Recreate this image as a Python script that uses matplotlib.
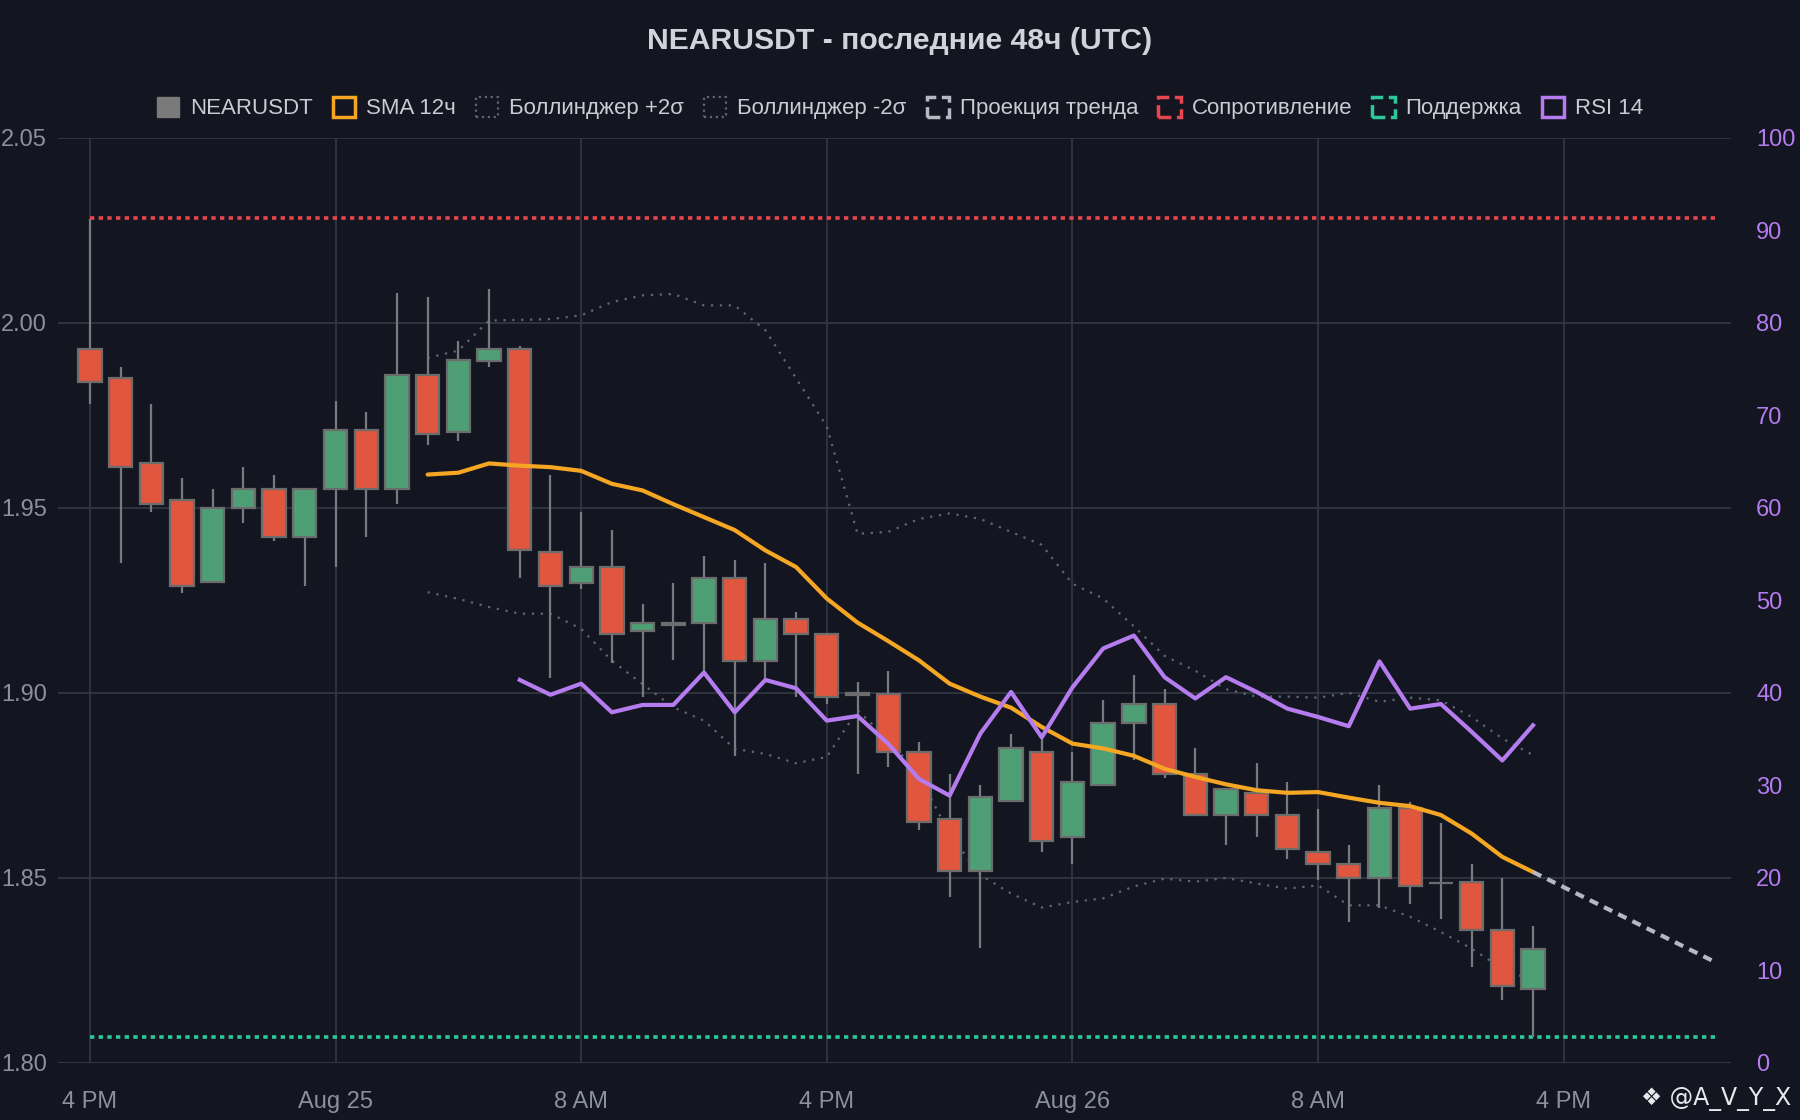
import matplotlib
matplotlib.use("Agg")
import matplotlib.pyplot as plt
import matplotlib.dates as mdates
from matplotlib.patches import Patch
from matplotlib.ticker import FuncFormatter
import pandas as pd
import numpy as np

# ---------------- data ----------------
start_time = "2025-08-24 16:00"
opens = [1.993, 1.985, 1.962, 1.952, 1.930, 1.950, 1.955, 1.942, 1.955, 1.971,
         1.955, 1.986, 1.9705, 1.9898, 1.993, 1.938, 1.9297, 1.934, 1.9168, 1.9183,
         1.9188, 1.931, 1.9087, 1.920, 1.916, 1.8995, 1.8998, 1.8839, 1.8659, 1.8518,
         1.8708, 1.884, 1.861, 1.875, 1.892, 1.897, 1.878, 1.8669, 1.873, 1.867,
         1.857, 1.8539, 1.850, 1.8689, 1.8487, 1.8488, 1.8359, 1.8199]
closes = [1.984, 1.961, 1.951, 1.929, 1.950, 1.955, 1.942, 1.955, 1.971, 1.955,
          1.986, 1.970, 1.990, 1.9929, 1.9387, 1.929, 1.934, 1.9159, 1.919, 1.919,
          1.931, 1.9087, 1.920, 1.9159, 1.8989, 1.900, 1.8839, 1.865, 1.8518, 1.8719,
          1.885, 1.860, 1.876, 1.892, 1.897, 1.878, 1.8669, 1.874, 1.867, 1.8578,
          1.8539, 1.850, 1.8689, 1.8478, 1.8487, 1.8359, 1.8208, 1.8309]
highs = [2.028, 1.988, 1.978, 1.958, 1.955, 1.961, 1.959, 1.955, 1.979, 1.976,
         2.008, 2.007, 1.995, 2.009, 1.9936, 1.959, 1.949, 1.944, 1.924, 1.9297,
         1.937, 1.9358, 1.935, 1.9219, 1.916, 1.903, 1.906, 1.8868, 1.878, 1.875,
         1.8888, 1.888, 1.884, 1.898, 1.9048, 1.901, 1.885, 1.874, 1.881, 1.8758,
         1.8687, 1.8588, 1.875, 1.8705, 1.8649, 1.8539, 1.850, 1.8369]
lows = [1.978, 1.935, 1.949, 1.927, 1.930, 1.946, 1.941, 1.929, 1.934, 1.942,
        1.951, 1.967, 1.968, 1.988, 1.931, 1.904, 1.928, 1.908, 1.899, 1.909,
        1.906, 1.883, 1.903, 1.899, 1.897, 1.878, 1.880, 1.8629, 1.8449, 1.831,
        1.8708, 1.857, 1.8539, 1.875, 1.882, 1.877, 1.8669, 1.859, 1.861, 1.855,
        1.8494, 1.838, 1.842, 1.843, 1.839, 1.826, 1.8171, 1.807]

sma_start = 11
sma12 = [1.959, 1.9595, 1.962, 1.9614, 1.961, 1.960, 1.9565, 1.9547, 1.951, 1.9475,
         1.944, 1.9385, 1.934, 1.9255, 1.919, 1.914, 1.9088, 1.9025, 1.899, 1.896,
         1.8908, 1.8863, 1.885, 1.883, 1.8795, 1.8773, 1.8753, 1.8737, 1.873, 1.8732,
         1.8717, 1.8703, 1.8694, 1.867, 1.862, 1.8557, 1.8516]
boll_upper = [1.9905, 1.9925, 2.0006, 2.0008, 2.001, 2.002, 2.0056, 2.0074, 2.0078, 2.0047,
              2.0047, 1.998, 1.985, 1.972, 1.943, 1.9435, 1.947, 1.9485, 1.947, 1.9435,
              1.940, 1.9295, 1.9255, 1.918, 1.910, 1.906, 1.901, 1.899, 1.899, 1.8987,
              1.900, 1.8976, 1.8987, 1.898, 1.8935, 1.8877, 1.8832]
boll_lower = [1.9272, 1.9254, 1.9232, 1.9214, 1.9214, 1.9173, 1.9087, 1.9024, 1.8961, 1.8925,
              1.8849, 1.8835, 1.881, 1.8827, 1.8953, 1.8875, 1.8778, 1.8618, 1.8508, 1.8458,
              1.842, 1.8435, 1.8445, 1.8477, 1.8498, 1.849, 1.850, 1.8485, 1.8471, 1.848,
              1.8426, 1.8426, 1.8395, 1.8354, 1.8309, 1.8255, 1.8222]

rsi_start = 14
rsi14 = [41.4, 39.8, 41.0, 37.9, 38.7, 38.7, 42.2, 37.9, 41.4, 40.5,
         37.0, 37.5, 34.5, 30.7, 28.9, 35.6, 40.1, 35.2, 40.6, 44.8,
         46.2, 41.7, 39.4, 41.7, 40.1, 38.3, 37.4, 36.4, 43.4, 38.3,
         38.8, 35.8, 32.7, 36.5]

trend_hours = [47, 53]
trend_values = [1.8516, 1.827]
level_hours = [0, 53]
resistance = 2.0283
support = 1.8071

price_ticks = [1.80, 1.85, 1.90, 1.95, 2.00, 2.05]
rsi_ticks = [0, 10, 20, 30, 40, 50, 60, 70, 80, 90, 100]

title = "NEARUSDT - последние 48ч (UTC)"
legend_labels = ["NEARUSDT", "SMA 12ч", "Боллинджер +2σ", "Боллинджер -2σ",
                 "Проекция тренда", "Сопротивление", "Поддержка", "RSI 14"]
watermark = "❖ @A_V_Y_X"

# ---------------- style ----------------
BG = "#131620"
GRID = "#343844"
TXT = "#8b909c"
RED = "#e0563f"
GREEN = "#4f9f76"
EDGE = "#6c6c6c"
ORANGE = "#f5a623"
PURPLE = "#b57cf0"
BOLL = "#5f6775"
RES = "#e8464f"
SUP = "#2cc79a"
TREND = "#b5b9c2"

plt.rcParams['font.family'] = ['Liberation Sans', 'DejaVu Sans']

times = pd.date_range(start_time, periods=len(opens), freq="h")
t0 = mdates.date2num(times[0].to_pydatetime())
x = np.array([mdates.date2num(t.to_pydatetime()) for t in times])
hour = 1.0 / 24.0

fig = plt.figure(figsize=(18, 11.2), dpi=100, facecolor=BG)
ax = fig.add_axes([0.0322, 0.0509, 0.9295, 0.8261])
ax.set_facecolor(BG)

o = np.array(opens); c = np.array(closes)
colors = [GREEN if cc >= oo else RED for oo, cc in zip(o, c)]
ax.vlines(x, lows, highs, color="#777b80", lw=1.6, zorder=3)
ax.bar(x, np.abs(c - o), bottom=np.minimum(o, c), width=0.76 * hour,
       color=colors, edgecolor=EDGE, linewidth=1.6, zorder=4)

xs_sma = x[sma_start:sma_start + len(sma12)]
ax.plot(xs_sma, boll_upper, color=BOLL, lw=1.6, ls=(0, (1, 3)), zorder=2)
ax.plot(xs_sma, boll_lower, color=BOLL, lw=1.6, ls=(0, (1, 3)), zorder=2)
ax.plot(xs_sma, sma12, color=ORANGE, lw=3, zorder=5, solid_capstyle='round',
        solid_joinstyle='round')

tx = [t0 + h * hour for h in trend_hours]
ax.plot(tx, trend_values, color=TREND, lw=3, ls=(0, (2.2, 1.6)), zorder=5)

lx = [t0 + h * hour for h in level_hours]
ax.plot(lx, [resistance, resistance], color=RES, lw=2.6, ls=(0, (1.2, 1.2)), zorder=2)
ax.plot(lx, [support, support], color=SUP, lw=2.6, ls=(0, (1.2, 1.2)), zorder=2)

ax.set_ylim(1.80, 2.05)
ax.set_xlim(t0 - 1.04 * hour, t0 + 53.45 * hour)
ax.set_yticks(price_ticks)
ax.yaxis.set_major_formatter(FuncFormatter(lambda v, p: f"{v:.2f}"))

ax.xaxis.set_major_locator(mdates.HourLocator(byhour=[0, 8, 16]))
def fmt_x(v, p):
    d = mdates.num2date(v)
    if d.hour == 0:
        return f"{d:%b} {d.day}"
    h12 = d.hour % 12 or 12
    return f"{h12} {'AM' if d.hour < 12 else 'PM'}"
ax.xaxis.set_major_formatter(FuncFormatter(fmt_x))

ax.grid(True, color=GRID, lw=1.2, zorder=0)
for s in ax.spines.values():
    s.set_visible(False)
ax.tick_params(axis='y', colors=TXT, labelsize=17, length=0, pad=8)
ax.tick_params(axis='x', colors=TXT, labelsize=17, length=0, pad=20)
ax.axhline(1.80, color="#3a3e4a", lw=2, zorder=1)

ax2 = ax.twinx()
ax2.set_ylim(0, 100)
ax2.set_yticks(rsi_ticks)
xs_rsi = x[rsi_start:rsi_start + len(rsi14)]
ax2.plot(xs_rsi, rsi14, color=PURPLE, lw=3, zorder=6, solid_joinstyle='round')
ax2.tick_params(axis='y', colors=PURPLE, labelsize=17, length=0, pad=18)
for s in ax2.spines.values():
    s.set_visible(False)
ax2.grid(False)

fig.text(0.5, 0.9635, title, ha='center', va='center', fontsize=21.7,
         fontweight='bold', color="#d0d3da")

handles = [
    Patch(facecolor="#7a7a7a", edgecolor="#7a7a7a", lw=1),
    Patch(facecolor='none', edgecolor=ORANGE, lw=2.5),
    Patch(facecolor='none', edgecolor=BOLL, lw=1.6, ls=':'),
    Patch(facecolor='none', edgecolor=BOLL, lw=1.6, ls=':'),
    Patch(facecolor='none', edgecolor=TREND, lw=2.5, ls='--'),
    Patch(facecolor='none', edgecolor=RES, lw=2.5, ls='--'),
    Patch(facecolor='none', edgecolor=SUP, lw=2.5, ls='--'),
    Patch(facecolor='none', edgecolor=PURPLE, lw=2.5),
]
leg = fig.legend(handles, legend_labels, loc='center', bbox_to_anchor=(0.5, 0.9035),
                 ncol=8, frameon=False, fontsize=16, labelcolor="#c9ccd3",
                 handlelength=1.0, handleheight=1.0, handletextpad=0.5,
                 columnspacing=0.9)

fig.text(0.995, 0.019, watermark, ha='right', va='center', fontsize=17,
         color="#e6e8ec", family=['DejaVu Sans'])

fig.savefig("out.png", dpi=100, facecolor=BG)
